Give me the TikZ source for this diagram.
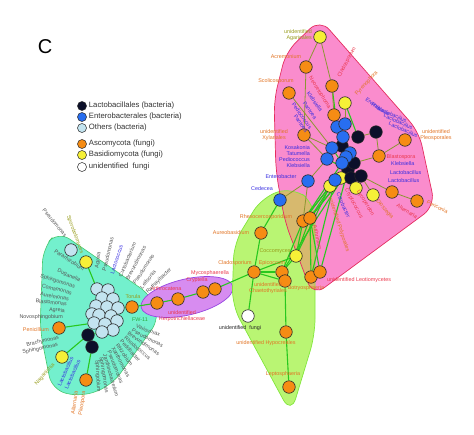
\documentclass[tikz,border=0pt]{standalone}
\usepackage{fontspec}
\setmainfont{Liberation Sans}
\usetikzlibrary{positioning}

% node colours
\definecolor{lactoC}{RGB}{12,16,42}
\definecolor{enteroC}{RGB}{40,110,240}
\definecolor{otherC}{RGB}{195,228,240}
\definecolor{ascoC}{RGB}{246,140,20}
\definecolor{basidioC}{RGB}{246,240,55}
% hull colours
\definecolor{pinkfill}{RGB}{250,140,205}
\definecolor{pinkline}{RGB}{228,45,95}
\definecolor{greenfill}{RGB}{185,245,115}
\definecolor{greenline}{RGB}{130,230,60}
\definecolor{tanfill}{RGB}{215,185,110}
\definecolor{cyanfill}{RGB}{115,240,205}
\definecolor{cyanline}{RGB}{70,200,110}
\definecolor{purplefill}{RGB}{215,140,240}
\definecolor{purpleline}{RGB}{150,70,225}
% link and label colours
\definecolor{linkgreen}{RGB}{40,200,30}
\definecolor{linkolive}{RGB}{140,150,50}
\definecolor{tagorange}{RGB}{225,115,35}
\definecolor{tagred}{RGB}{235,55,75}
\definecolor{tagblue}{RGB}{55,45,225}
\definecolor{taggray}{RGB}{85,85,85}
\definecolor{tagolive}{RGB}{150,155,25}
\definecolor{taggreen}{RGB}{40,170,60}

\pgfdeclarelayer{hulls}
\pgfdeclarelayer{links}
\pgfsetlayers{hulls,links,main}

\newcommand{\tagsize}{\fontsize{5.4}{6}\selectfont}
\newcommand{\pinkhullpath}{(320,19) -- (419,132) -- (435,206) -- (313,296) -- (285,222) -- (276,172) -- (274,100) -- (286,52) -- cycle}
\newcommand{\greenhullpath}{(262,197) -- (293,187) -- (315,204) -- (315,335) -- (291,414) -- (232,305) -- (234,243) -- cycle}

\tikzset{
  taxon/.style={circle, draw=black!85, line width=0.6pt, minimum size=12.5pt, inner sep=0pt},
  lacto/.style={taxon, fill=lactoC},
  entero/.style={taxon, fill=enteroC},
  otherbac/.style={taxon, fill=otherC},
  asco/.style={taxon, fill=ascoC},
  basidio/.style={taxon, fill=basidioC},
  nofungus/.style={taxon, fill=white},
  key/.style={circle, draw=black!85, line width=0.5pt, minimum size=9pt, inner sep=0pt},
  keytext/.style={font=\fontsize{7.7}{8.5}\selectfont, text=black!80, inner sep=0pt},
  tag/.style={font=\tagsize, inner sep=0pt},
  ascotag/.style={tag, text=tagorange},
  redtag/.style={tag, text=tagred},
  bluetag/.style={tag, text=tagblue},
  graytag/.style={tag, text=taggray},
  olivetag/.style={tag, text=tagolive},
  glink/.style={draw=linkgreen, line width=1.1pt},
  olink/.style={draw=linkolive, line width=0.8pt},
}

\begin{document}
\begin{tikzpicture}[x=1pt, y=-1pt]

  \useasboundingbox (0,0) rectangle (474,434);

  % Panel letter
  \node[font=\fontsize{20}{22}\selectfont] (panel) at (45,47) {C};

  % Legend
  \node[key, fill=lactoC]   (k-lacto)  at (82,106) {};
  \node[key, fill=enteroC]  (k-entero) at (82,117) {};
  \node[key, fill=otherC]   (k-other)  at (82,128) {};
  \node[key, fill=ascoC]    (k-asco)   at (82,144) {};
  \node[key, fill=basidioC] (k-basid)  at (82,155) {};
  \node[key, fill=white]    (k-unid)   at (82,167) {};
  \node[keytext, right=2pt of k-lacto]  (kt-lacto)  {Lactobacillales (bacteria)};
  \node[keytext, right=2pt of k-entero] (kt-entero) {Enterobacterales (bacteria)};
  \node[keytext, right=2pt of k-other]  (kt-other)  {Others (bacteria)};
  \node[keytext, right=2pt of k-asco]   (kt-asco)   {Ascomycota (fungi)};
  \node[keytext, right=2pt of k-basid]  (kt-basid)  {Basidiomycota (fungi)};
  \node[keytext, right=2pt of k-unid]   (kt-unid)   {unidentified\ \ fungi};

  % Module hulls
  \begin{pgfonlayer}{hulls}
    \fill[cyanfill, draw=cyanline, line width=0.6pt, rounded corners=14pt]
      (58,231) -- (152,296) -- (160,318) -- (112,385) -- (82,397) -- (52,390) -- (40,330) -- (43,248) -- cycle;
    \fill[purplefill, draw=purpleline, line width=0.7pt, rotate around={13:(187,297)}]
      (187,297) ellipse [x radius=47, y radius=18];
    \fill[greenfill, rounded corners=16pt] \greenhullpath;
    \fill[pinkfill, rounded corners=14pt] \pinkhullpath;
    \begin{scope}
      \clip[rounded corners=14pt] \pinkhullpath;
      \fill[tanfill, rounded corners=16pt] \greenhullpath;
    \end{scope}
    \draw[greenline, line width=0.7pt, rounded corners=16pt] \greenhullpath;
    \draw[pinkline, line width=0.7pt, rounded corners=14pt] \pinkhullpath;
  \end{pgfonlayer}

  % Pink module
  \node[basidio] (agar)   at (320,37)  {};
  \node[asco]    (acrem)  at (306,67)  {};
  \node[asco]    (scoli)  at (289,93)  {};
  \node[asco]    (neoset) at (332,86)  {};
  \node[basidio] (ybas)   at (345,103) {};
  \node[asco]    (oasc)   at (334,115) {};
  \node[asco]    (xyl)    at (304,135) {};
  \node[lacto]   (k3)     at (342,146) {};
  \node[lacto]   (k1)     at (358,137) {};
  \node[lacto]   (k2)     at (376,132) {};
  \node[entero]  (e1)     at (337,127) {};
  \node[entero]  (e2)     at (345,124) {};
  \node[entero]  (e3)     at (343,137) {};
  \node[lacto]   (k5)     at (348,170) {};
  \node[lacto]   (k4)     at (354,163) {};
  \node[entero]  (e4)     at (332,148) {};
  \node[entero]  (e5)     at (327,159) {};
  \node[entero]  (e6)     at (350,153) {};
  \node[entero]  (e7)     at (346,157) {};
  \node[entero]  (e8)     at (342,163) {};
  \node[asco]    (blast)  at (379,156) {};
  \node[asco]    (pleo)   at (405,140) {};
  \node[entero]  (enter)  at (308,181) {};
  \node[entero]  (cede)   at (280,200) {};
  \node[basidio] (y3)     at (330,186) {};
  \node[basidio] (y4)     at (341,178) {};
  \node[entero]  (citro)  at (335,180) {};
  \node[lacto]   (k6)     at (351,178) {};
  \node[lacto]   (k7)     at (361,176) {};
  \node[basidio] (y5)     at (356,188) {};
  \node[basidio] (y6)     at (373,195) {};
  \node[asco]    (r4)     at (392,192) {};
  \node[asco]    (r5)     at (417,201) {};

  % Green module
  \node[asco]     (rhex1)  at (303,221) {};
  \node[asco]     (rhex2)  at (310,218) {};
  \node[asco]     (aureo)  at (261,233) {};
  \node[asco]     (clado)  at (254,272) {};
  \node[basidio]  (ygreen) at (296,256) {};
  \node[asco]     (epi1)   at (282,272) {};
  \node[asco]     (epi2)   at (285,281) {};
  \node[nofungus] (unfun)  at (248,316) {};
  \node[asco]     (hypo)   at (286,332) {};
  \node[asco]     (lepto)  at (289,387) {};
  \node[asco]     (botry1) at (311,277) {};
  \node[asco]     (botry2) at (320,272) {};

  % Purple module
  \node[asco] (p1) at (157,303) {};
  \node[asco] (p2) at (178,299) {};
  \node[asco] (p3) at (203,292) {};
  \node[asco] (p4) at (215,289) {};

  % Cyan module
  \node[asco]     (torula) at (132,307) {};
  \node[otherbac] (pseud)  at (71,250)  {};
  \node[basidio]  (sporo)  at (86,262)  {};
  \node[asco]     (penic)  at (59,328)  {};
  \node[basidio]  (naga)   at (62,357)  {};
  \node[asco]     (alt)    at (86,380)  {};
  \node[otherbac] (o1)  at (97,289)  {};
  \node[otherbac] (o2)  at (108,290) {};
  \node[otherbac] (o3)  at (102,298) {};
  \node[otherbac] (o4)  at (113,299) {};
  \node[otherbac] (o5)  at (96,306)  {};
  \node[otherbac] (o6)  at (107,307) {};
  \node[otherbac] (o7)  at (118,308) {};
  \node[otherbac] (o15) at (92,314)  {};
  \node[otherbac] (o8)  at (99,315)  {};
  \node[otherbac] (o9)  at (111,316) {};
  \node[otherbac] (o12) at (117,321) {};
  \node[otherbac] (o10) at (94,323)  {};
  \node[otherbac] (o11) at (105,324) {};
  \node[otherbac] (o14) at (113,330) {};
  \node[otherbac] (o13) at (102,332) {};
  \node[lacto]    (c1)  at (88,335)  {};
  \node[lacto]    (c2)  at (92,347)  {};

  % Links
  \begin{pgfonlayer}{links}
    % cyan
    \draw[glink] (sporo) -- (o1);
    \draw[glink] (penic) -- (o10);
    \draw[glink] (naga) -- (c1);
    \draw[glink] (alt) -- (c2);
    \draw[glink] (c1) -- (o13);
    \draw[glink] (torula) -- (o7);
    % purple chain
    \draw[glink] (torula) -- (p1);
    \draw[glink] (p1) -- (p2);
    \draw[glink] (p2) -- (p3);
    \draw[glink] (p3) -- (p4);
    \draw[glink] (p4) -- (clado);
    % green
    \draw[glink] (clado) -- (aureo);
    \draw[glink] (clado) -- (unfun);
    \draw[glink] (clado) -- (epi1);
    \draw[glink] (clado) -- (epi2);
    \draw[glink] (clado) -- (ygreen);
    \draw[glink] (aureo) -- (cede);
    \draw[glink] (epi2) -- (hypo);
    \draw[glink] (hypo) -- (lepto);
    \draw[glink] (epi1) -- (ygreen);
    % overlap to core
    \draw[glink] (rhex1) -- (citro);
    \draw[glink] (rhex2) -- (citro);
    \draw[glink] (rhex1) -- (e8);
    \draw[glink] (rhex2) -- (k5);
    \draw[glink] (rhex2) -- (k4);
    \draw[glink] (rhex1) -- (y3);
    \draw[glink] (rhex1) -- (ygreen);
    \draw[glink] (rhex2) -- (ygreen);
    \draw[glink] (rhex1) -- (epi1);
    \draw[glink] (rhex2) -- (botry1);
    \draw[glink] (rhex2) -- (botry2);
    \draw[glink] (k5) -- (botry2);
    \draw[glink] (citro) -- (botry1);
    \draw[glink] (ygreen) -- (y3);
    \draw[glink] (epi1) -- (k5);
    % core
    \draw[glink] (oasc) -- (e1);
    \draw[glink] (neoset) -- (e1);
    \draw[glink] (ybas) -- (k1);
    \draw[glink] (e4) -- (k3);
    \draw[glink] (e5) -- (k5);
    \draw[glink] (k5) -- (citro);
    \draw[glink] (e4) -- (e8);
    % pink
    \draw[olink] (agar) -- (acrem);
    \draw[olink] (agar) -- (neoset);
    \draw[olink] (acrem) -- (xyl);
    \draw[olink] (neoset) -- (oasc);
    \draw[olink] (scoli) -- (e4);
    \draw[olink] (xyl) -- (e4);
    \draw[olink] (xyl) -- (e5);
    \draw[olink] (ybas) -- (e2);
    \draw[olink] (k2) -- (k1);
    \draw[olink] (k2) -- (blast);
    \draw[olink] (pleo) -- (blast);
    \draw[olink] (blast) -- (k4);
    \draw[olink] (k7) -- (r4);
    \draw[olink] (r4) -- (r5);
    \draw[olink] (k7) -- (y6);
    \draw[olink] (k6) -- (y5);
    \draw[olink] (enter) -- (cede);
    \draw[olink] (enter) -- (e5);
    \draw[olink] (enter) -- (rhex1);
  \end{pgfonlayer}

  % Labels, pink module
  \node[olivetag, align=right, anchor=east] (t-agar) at (312,35) {unidentified\\Agaricales};
  \node[ascotag] (t-acrem) at (286,57) {Acremonium};
  \node[ascotag] (t-scoli) at (276,81) {Scolicosporum};
  \node[redtag, rotate=62, anchor=west] (t-clad2) at (339,77) {Cladosporium};
  \node[ascotag, rotate=48, anchor=west] (t-pyren) at (356,95) {Pyrenophora};
  \node[redtag, rotate=-58, anchor=west] (t-neoset) at (310,77) {Neosetophoma};
  \node[bluetag, rotate=-55, anchor=west] (t-kleb1) at (308,92) {Klebsiella};
  \node[bluetag, rotate=-55, anchor=west] (t-pant1) at (304,102) {Pantoea};
  \node[bluetag, rotate=-55, anchor=west] (t-pedi1) at (293,103) {Pediococcus};
  \node[bluetag, rotate=-55, anchor=west] (t-pant2) at (295,115) {Pantoea};
  \node[ascotag, align=center] (t-xyl) at (274,135) {unidentified\\Xylariales};
  \node[bluetag, rotate=-35, anchor=west] (t-erwi) at (366,99) {Erwinia};
  \node[bluetag, rotate=-32, anchor=west] (t-pant3) at (372,104) {Pantoea};
  \node[bluetag, rotate=-25, anchor=west] (t-lact1) at (378,108) {Lactobacillus};
  \node[bluetag, rotate=-25, anchor=west] (t-lact2) at (384,115) {Lactobacillus};
  \node[bluetag, rotate=-25, anchor=west] (t-lact3) at (389,123) {Lactobacillus};
  \node[ascotag, align=center] (t-pleo) at (436,135) {unidentified\\Pleosporales};
  \node[bluetag, anchor=east] (t-kosa) at (310,148) {Kosakonia};
  \node[bluetag, anchor=east] (t-tatu) at (310,154) {Tatumella};
  \node[bluetag, anchor=east] (t-pedi2) at (310,160) {Pediococcus};
  \node[bluetag, anchor=east] (t-kleb2) at (310,166) {Klebsiella};
  \node[redtag] (t-blast) at (401,157) {Blastospora};
  \node[bluetag, anchor=west] (t-kleb3) at (391,164) {Klebsiella};
  \node[bluetag, anchor=west] (t-lact4) at (390,173) {Lactobacillus};
  \node[bluetag, anchor=west] (t-lact5) at (388,181) {Lactobacillus};
  \node[bluetag] (t-enter) at (281,177) {Enterobacter};
  \node[bluetag] (t-cede) at (262,189) {Cedecea};
  \node[bluetag, rotate=-66, anchor=west] (t-citro) at (338,193) {Citrobacter};
  \node[redtag, rotate=-62, anchor=west] (t-crypt) at (346,189) {Cryptococcus};
  \node[ascotag, rotate=-72, anchor=west] (t-poly) at (330,197) {unidentified Polyporales};
  \node[redtag, rotate=-58, anchor=west] (t-lyco) at (358,191) {Lycoperdon};
  \node[ascotag, rotate=-50, anchor=west] (t-dios) at (377,200) {Dioszegia};
  \node[redtag, rotate=-31, anchor=west] (t-alte) at (397,205) {Alternaria};
  \node[ascotag, rotate=-25, anchor=west] (t-peri) at (427,202) {Periconia};
  \node[redtag, rotate=-78, anchor=west] (t-arth) at (315,225) {Arthrinium};
  \node[redtag] (t-leot) at (359,280) {unidentified Leotiomycetes};

  % Labels, green module
  \node[ascotag] (t-rhex) at (266,217) {Rhexocercosporidium};
  \node[ascotag] (t-aureo) at (231,233) {Aureobasidium};
  \node[ascotag] (t-clado) at (235,263) {Cladosporium};
  \node[olivetag] (t-cocc) at (275,251) {Coccomyces};
  \node[ascotag] (t-epi) at (272,263) {Epicoccum};
  \node[ascotag, align=center] (t-chae) at (268,288) {unidentified\\Chaetothyriales};
  \node[tag, text=black!85] (t-unfun) at (240,328) {unidentified\ \ fungi};
  \node[ascotag] (t-hypo) at (266,343) {unidentified Hypocreales};
  \node[ascotag] (t-lepto) at (283,374) {Leptosphaeria};
  \node[ascotag] (t-botry) at (306,288) {Botryosphaeria};

  % Labels, purple module
  \node[redtag] (t-myco) at (210,273) {Mycosphaerella};
  \node[redtag] (t-cryp) at (197,280) {Cryptella};
  \node[redtag] (t-arthc) at (166,289) {Arthrocatena};
  \node[redtag, align=center] (t-herp) at (182,316) {unidentified\\Herpotrichiellaceae};

  % Labels, cyan module: upper left side
  \node[olivetag] (t-torula) at (133,297) {Torula};
  \node[graytag, rotate=-50, anchor=east] (t-pseud1) at (66,236) {Pseudomonas};
  \node[olivetag, rotate=-70, anchor=east] (t-sporo) at (82,254) {Sporobolomyces};
  \node[graytag, rotate=-34, anchor=east] (t-parar) at (84,270) {Pararhizobium};
  \node[graytag, rotate=-25, anchor=east] (t-duga) at (80,281) {Duganella};
  \node[graytag, rotate=-18, anchor=east] (t-sphi1) at (75,287) {Sphingomonas};
  \node[graytag, rotate=-14, anchor=east] (t-coma) at (72,293) {Comamonas};
  \node[graytag, rotate=-10, anchor=east] (t-aure) at (69,299) {Aureimonas};
  \node[graytag, rotate=-6, anchor=east] (t-blas) at (67,304) {Blastomonas};
  \node[graytag, rotate=-4, anchor=east] (t-agre1) at (65,311) {Agreia};
  \node[graytag, anchor=east] (t-novo) at (63,317) {Novosphingobium};
  % lower left side
  \node[ascotag, anchor=east] (t-penic) at (49,330) {Penicillium};
  \node[graytag, rotate=12, anchor=east] (t-brac) at (59,338) {Brachymonas};
  \node[graytag, rotate=12, anchor=east] (t-sphi2) at (58,345) {Sphingomonas};
  \node[olivetag, rotate=48, anchor=east] (t-naga) at (54,364) {Naganishia};
  \node[bluetag, rotate=66, anchor=east] (t-lact6) at (72,357) {Lactobacillus};
  \node[bluetag, rotate=66, anchor=east] (t-lact7) at (79,360) {Lactobacillus};
  \node[ascotag, rotate=82, anchor=east] (t-alt1) at (76,391) {Alternaria};
  \node[ascotag, rotate=82, anchor=east] (t-alt2) at (84,391) {Pleospora};
  % top
  \node[graytag, rotate=82, anchor=west] (t-agre2) at (97,268) {Agreia};
  \node[graytag, rotate=77, anchor=west] (t-pseud2) at (104,271) {Pseudomonas};
  \node[bluetag, rotate=72, anchor=west] (t-lcoc) at (112,274) {Lactococcus};
  \node[graytag, rotate=67, anchor=west] (t-curt) at (120,277) {Curtobacterium};
  \node[graytag, rotate=62, anchor=west] (t-brev1) at (127,280) {Brevundimonas};
  \node[graytag, rotate=57, anchor=west] (t-pseud3) at (134,284) {Pseudomonas};
  \node[graytag, rotate=51, anchor=west] (t-leif) at (141,288) {Leifsonia};
  \node[graytag, rotate=45, anchor=west] (t-rath) at (147,293) {Rathayibacter};
  % lower right side
  \node[tag, text=taggreen] (t-fw) at (140,320) {FW-11};
  \node[graytag, rotate=-20, anchor=west] (t-vari) at (136,326) {Variovorax};
  \node[graytag, rotate=-27, anchor=west] (t-pseud4) at (132,330) {Pseudomonas};
  \node[graytag, rotate=-34, anchor=west] (t-brev2) at (128,333) {Brevundimonas};
  \node[graytag, rotate=-41, anchor=west] (t-rhod) at (125,337) {Rhodococcus};
  \node[graytag, rotate=-48, anchor=west] (t-pedo) at (121,340) {Pedobacter};
  \node[graytag, rotate=-55, anchor=west] (t-rhiz) at (117,344) {Rhizobium};
  \node[graytag, rotate=-62, anchor=west] (t-xant) at (113,347) {Xanthomonas};
  \node[graytag, rotate=-68, anchor=west] (t-pseud5) at (109,351) {Pseudomonas};
  \node[graytag, rotate=-74, anchor=west] (t-jant) at (105,354) {Janthinobacterium};
  \node[graytag, rotate=-81, anchor=west] (t-sphi3) at (101,357) {Sphingomonas};
  \node[graytag, rotate=-87, anchor=west] (t-sphb) at (97,360) {Sphingobium};

\end{tikzpicture}
\end{document}
